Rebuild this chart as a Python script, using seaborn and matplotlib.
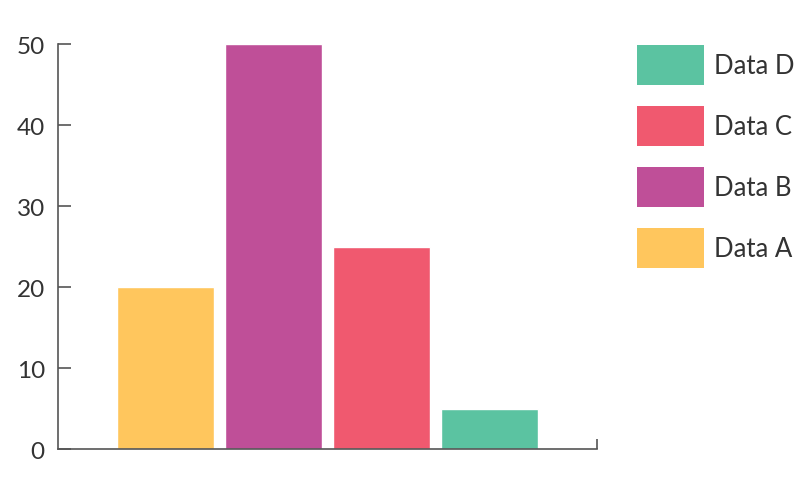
import matplotlib
matplotlib.use("Agg")
import matplotlib.pyplot as plt
import seaborn as sns
import pandas as pd
from matplotlib.patches import Patch

categories = ["Data A", "Data B", "Data C", "Data D"]
values = [20, 50, 25, 5]
colors = ["#FFC65D", "#BF4F98", "#F0596F", "#5BC3A1"]
yticks = [0, 10, 20, 30, 40, 50]

sns.set_style("white")
plt.rcParams['font.family'] = ['Lato', 'DejaVu Sans']

df = pd.DataFrame({"cat": categories, "val": values})
fig = plt.figure(figsize=(8, 4.81), dpi=100)
ax = fig.add_axes([0.0725, 0.0644, 0.746 - 0.0725, 0.9064 - 0.0644])
sns.barplot(data=df, x="cat", y="val", hue="cat", palette=colors, width=0.9,
            legend=False, ax=ax, saturation=1)
ax.set_xlim(-1, 4)
ax.set_ylim(0, 50)
ax.set_yticks(yticks)
ax.set_yticklabels([str(t) for t in yticks])
ax.set_xticks([4])
ax.set_xticklabels([""])
ax.set_xlabel("")
ax.set_ylabel("")
for s in ["top", "right"]:
    ax.spines[s].set_visible(False)
for s in ["left", "bottom"]:
    ax.spines[s].set_color("#555555")
    ax.spines[s].set_linewidth(1.2)
ax.tick_params(axis="y", left=True, direction="in", length=9.5, width=1.2, color="#555555",
               labelsize=17.5, labelcolor="#333333", pad=9.5)
ax.tick_params(axis="x", bottom=True, direction="in", length=7, width=1.2, color="#555555")

handles = [Patch(facecolor=c, edgecolor="none") for c in colors][::-1]
labels = categories[::-1]
fig.legend(handles, labels, loc="upper left", bbox_to_anchor=(0.7965, 0.905),
           frameon=False, fontsize=18.5, handlelength=2.6, handleheight=2.02,
           handletextpad=0.39, labelspacing=0.82, borderaxespad=0, borderpad=0,
           labelcolor="#333333")
fig.savefig("out.png", dpi=100)
